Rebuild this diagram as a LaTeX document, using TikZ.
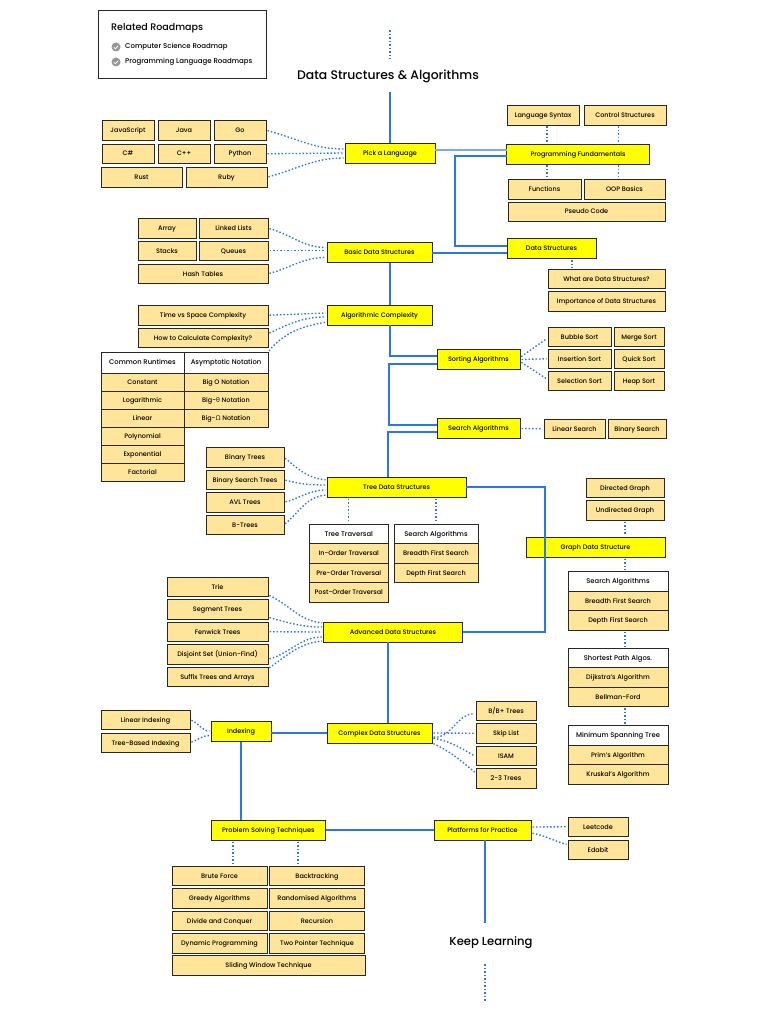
\documentclass[tikz,border=0pt]{standalone}
\usepackage{fontspec}
\setmainfont{Poppins}[UprightFont=* Medium]
\newfontfamily\greekfont{Open Sans}
\usepackage{xcolor}
\usetikzlibrary{positioning}
\definecolor{linkblue}{RGB}{43, 120, 228}
\definecolor{palelink}{RGB}{120, 170, 240}
\definecolor{topicyellow}{RGB}{255, 255, 0}
\definecolor{subtan}{RGB}{255, 229, 153}
\definecolor{inkline}{RGB}{40, 40, 32}
\definecolor{checkgray}{RGB}{150, 150, 150}
\tikzset{
    basebox/.style={draw=inkline, line width=0.95pt, inner sep=0pt, outer sep=0pt, align=center, text height=5.5pt, text depth=1pt, font=\fontsize{6.5}{8}\selectfont, text=black},
    topicbox/.style={basebox, fill=topicyellow, minimum height=20},
    subbox/.style={basebox, fill=subtan, minimum height=19.5},
    headbox/.style={basebox, fill=white, minimum height=19.5, font=\fontsize{6.8}{8}\selectfont},
    solidlink/.style={draw=linkblue, line width=2pt},
    dotlink/.style={draw=linkblue, line width=1.35pt, dash pattern=on 1.5pt off 2pt, shorten >=1.5pt, shorten <=1.5pt},
    endtitle/.style={inner sep=0pt, outer sep=0pt, font=\fontsize{11.6}{14}\selectfont},
    checkdot/.style={circle, fill=checkgray, minimum size=9, inner sep=0pt}
}
\begin{document}
\begin{tikzpicture}[x=1pt, y=-1pt]
    \path[use as bounding box, fill=white] (0,0) rectangle (768,1024);

    \node[draw=inkline, line width=0.95pt, fill=white, minimum width=168, minimum height=68, inner sep=0pt, anchor=north west] (related) at (98,10) {};
    \node[anchor=west, inner sep=0pt, font=\fontsize{9.5}{11}\selectfont] (relatedtitle) at (111,28) {Related Roadmaps};
    \node[checkdot] (csdot) at (116,47) {};
    \node[checkdot] (pldot) at (116,62) {};
    \draw[white, line width=0.8pt] ([shift={(-2.2,0.2)}]csdot.center) -- ++(1.6,1.6) -- ++(2.8,-3);
    \draw[white, line width=0.8pt] ([shift={(-2.2,0.2)}]pldot.center) -- ++(1.6,1.6) -- ++(2.8,-3);
    \node[anchor=west, inner sep=0pt, font=\fontsize{7}{8}\selectfont] (csroad) at (125,47) {Computer Science Roadmap};
    \node[anchor=west, inner sep=0pt, font=\fontsize{7}{8}\selectfont] (plroad) at (125,62) {Programming Language Roadmaps};

    \coordinate (topdot) at (390,29);
    \node[endtitle, minimum height=31, font=\fontsize{12.4}{14}\selectfont] (title) at (388,76.5) {Data Structures \& Algorithms};

    \node[topicbox, minimum width=90] (pick) at (390,153) {Pick a Language};
    \node[subbox, minimum width=52, anchor=north west] (javascript) at (102,120.5) {JavaScript};
    \node[subbox, minimum width=52, right=4pt of javascript] (java) {Java};
    \node[subbox, minimum width=52, right=4pt of java] (go) {Go};
    \node[subbox, minimum width=52, below=4pt of javascript] (csharp) {C\#};
    \node[subbox, minimum width=52, right=4pt of csharp] (cpp) {C++};
    \node[subbox, minimum width=52, right=4pt of cpp] (python) {Python};
    \node[subbox, minimum width=81, anchor=north west] (rust) at (101,167.5) {Rust};
    \node[subbox, minimum width=81, right=4pt of rust] (ruby) {Ruby};

    \node[topicbox, minimum width=142.5] (fundamentals) at (578,154) {Programming Fundamentals};
    \node[subbox, minimum width=72, anchor=north west] (syntax) at (507,105.5) {Language Syntax};
    \node[subbox, minimum width=82, right=5pt of syntax] (control) {Control Structures};
    \node[subbox, minimum width=73, anchor=north west] (functions) at (508,179.5) {Functions};
    \node[subbox, minimum width=81, right=3pt of functions] (oop) {OOP Basics};
    \node[subbox, minimum width=157, anchor=north west] (pseudo) at (508,202) {Pseudo Code};

    \node[topicbox, minimum width=89] (datastruct) at (551.5,248.5) {Data Structures};
    \node[subbox, minimum width=117, anchor=north west] (whatare) at (548,269) {What are Data Structures?};
    \node[subbox, minimum width=117, below=3pt of whatare] (importance) {Importance of Data Structures};

    \node[topicbox, minimum width=105] (basic) at (379.5,252.5) {Basic Data Structures};
    \node[subbox, minimum width=58, anchor=north west] (array) at (138,218.5) {Array};
    \node[subbox, minimum width=69, right=3pt of array] (linked) {Linked Lists};
    \node[subbox, minimum width=58, below=3pt of array] (stacks) {Stacks};
    \node[subbox, minimum width=69, right=3pt of stacks] (queues) {Queues};
    \node[subbox, minimum width=130, anchor=north west] (hash) at (138,264) {Hash Tables};

    \node[topicbox, minimum width=105] (complexity) at (379.5,315) {Algorithmic Complexity};
    \node[subbox, minimum width=130, anchor=north west] (timespace) at (138,305.5) {Time vs Space Complexity};
    \node[subbox, minimum width=130, below=3pt of timespace] (calculate) {How to Calculate Complexity?};

    \node[headbox, minimum width=83, minimum height=21, anchor=north west] (runtimes) at (101,352) {Common Runtimes};
    \node[headbox, minimum width=84, minimum height=21, right=0pt of runtimes] (asymptotic) {Asymptotic Notation};
    \node[subbox, minimum width=83, minimum height=18, below=0pt of runtimes] (constant) {Constant};
    \node[subbox, minimum width=83, minimum height=18, below=0pt of constant] (logarithmic) {Logarithmic};
    \node[subbox, minimum width=83, minimum height=18, below=0pt of logarithmic] (linear) {Linear};
    \node[subbox, minimum width=83, minimum height=18, below=0pt of linear] (polynomial) {Polynomial};
    \node[subbox, minimum width=83, minimum height=18, below=0pt of polynomial] (exponential) {Exponential};
    \node[subbox, minimum width=83, minimum height=18, below=0pt of exponential] (factorial) {Factorial};
    \node[subbox, minimum width=84, minimum height=18, below=0pt of asymptotic] (bigo) {Big O Notation};
    \node[subbox, minimum width=84, minimum height=18, below=0pt of bigo] (bigtheta) {Big-{\greekfont θ} Notation};
    \node[subbox, minimum width=84, minimum height=18, below=0pt of bigtheta] (bigomega) {Big-{\greekfont Ω} Notation};

    \node[topicbox, minimum width=83] (sorting) at (478.5,359.5) {Sorting Algorithms};
    \node[subbox, minimum width=63, anchor=north west] (bubble) at (548,327) {Bubble Sort};
    \node[subbox, minimum width=50, right=3pt of bubble] (merge) {Merge Sort};
    \node[subbox, minimum width=63, below=2.5pt of bubble] (insertion) {Insertion Sort};
    \node[subbox, minimum width=50, right=3pt of insertion] (quick) {Quick Sort};
    \node[subbox, minimum width=63, below=2.5pt of insertion] (selection) {Selection Sort};
    \node[subbox, minimum width=50, right=3pt of selection] (heap) {Heap Sort};

    \node[topicbox, minimum width=83] (search) at (478.5,428.5) {Search Algorithms};
    \node[subbox, minimum width=61, anchor=north west] (linsearch) at (544,419) {Linear Search};
    \node[subbox, minimum width=58, right=3pt of linsearch] (binsearch) {Binary Search};

    \node[topicbox, minimum width=139] (tree) at (396.5,487) {Tree Data Structures};
    \node[subbox, minimum width=78, anchor=north west] (binarytree) at (206,447.5) {Binary Trees};
    \node[subbox, minimum width=78, below=3pt of binarytree] (bst) {Binary Search Trees};
    \node[subbox, minimum width=78, below=3pt of bst] (avl) {AVL Trees};
    \node[subbox, minimum width=78, below=3pt of avl] (btrees) {B-Trees};
    \node[headbox, minimum width=78.5, anchor=north west] (traversal) at (309.5,524) {Tree Traversal};
    \node[subbox, minimum width=78.5, below=0pt of traversal] (inorder) {In-Order Traversal};
    \node[subbox, minimum width=78.5, below=0pt of inorder] (preorder) {Pre-Order Traversal};
    \node[subbox, minimum width=78.5, below=0pt of preorder] (postorder) {Post-Order Traversal};
    \node[headbox, minimum width=84, anchor=north west] (treesearch) at (394,524) {Search Algorithms};
    \node[subbox, minimum width=84, below=0pt of treesearch] (treebfs) {Breadth First Search};
    \node[subbox, minimum width=84, below=0pt of treebfs] (treedfs) {Depth First Search};

    \node[topicbox, minimum width=139] (graph) at (595.5,547) {Graph Data Structure};
    \node[subbox, minimum width=78, anchor=north west] (directed) at (586,478) {Directed Graph};
    \node[subbox, minimum width=78, below=3pt of directed] (undirected) {Undirected Graph};
    \node[headbox, minimum width=100, anchor=north west] (graphsearch) at (568,571.5) {Search Algorithms};
    \node[subbox, minimum width=100, below=0pt of graphsearch] (graphbfs) {Breadth First Search};
    \node[subbox, minimum width=100, below=0pt of graphbfs] (graphdfs) {Depth First Search};
    \node[headbox, minimum width=100, anchor=north west] (shortest) at (568,648) {Shortest Path Algos.};
    \node[subbox, minimum width=100, below=0pt of shortest] (dijkstra) {Dijkstra's Algorithm};
    \node[subbox, minimum width=100, below=0pt of dijkstra] (bellman) {Bellman-Ford};
    \node[headbox, minimum width=100, anchor=north west] (spanning) at (568,725.5) {Minimum Spanning Tree};
    \node[subbox, minimum width=100, below=0pt of spanning] (prim) {Prim's Algorithm};
    \node[subbox, minimum width=100, below=0pt of prim] (kruskal) {Kruskal's Algorithm};

    \node[topicbox, minimum width=139] (advanced) at (393,632) {Advanced Data Structures};
    \node[subbox, minimum width=101, anchor=north west] (trie) at (167,577) {Trie};
    \node[subbox, minimum width=101, below=3pt of trie] (segment) {Segment Trees};
    \node[subbox, minimum width=101, below=3pt of segment] (fenwick) {Fenwick Trees};
    \node[subbox, minimum width=101, below=3pt of fenwick] (disjoint) {Disjoint Set (Union-Find)};
    \node[subbox, minimum width=101, below=3pt of disjoint] (suffix) {Suffix Trees and Arrays};

    \node[topicbox, minimum width=105] (complex) at (379.5,733) {Complex Data Structures};
    \node[subbox, minimum width=60, anchor=north west] (bplus) at (476,701) {B/B+ Trees};
    \node[subbox, minimum width=60, below=3pt of bplus] (skip) {Skip List};
    \node[subbox, minimum width=60, below=3pt of skip] (isam) {ISAM};
    \node[subbox, minimum width=60, below=3pt of isam] (twothree) {2-3 Trees};

    \node[topicbox, minimum width=60] (indexing) at (241,731.5) {Indexing};
    \node[subbox, minimum width=89, anchor=north west] (linindex) at (101,710) {Linear Indexing};
    \node[subbox, minimum width=89, below=3.5pt of linindex] (treeindex) {Tree-Based Indexing};

    \node[topicbox, minimum width=114.5] (solving) at (268.25,830) {Problem Solving Techniques};
    \node[subbox, minimum width=95, anchor=north west] (brute) at (172,866) {Brute Force};
    \node[subbox, minimum width=95, right=2.5pt of brute] (backtrack) {Backtracking};
    \node[subbox, minimum width=95, below=3pt of brute] (greedy) {Greedy Algorithms};
    \node[subbox, minimum width=95, right=2.5pt of greedy] (randomised) {Randomised Algorithms};
    \node[subbox, minimum width=95, below=3pt of greedy] (divide) {Divide and Conquer};
    \node[subbox, minimum width=95, right=2.5pt of divide] (recursion) {Recursion};
    \node[subbox, minimum width=95, below=3pt of divide] (dynamic) {Dynamic Programming};
    \node[subbox, minimum width=95, right=2.5pt of dynamic] (twopointer) {Two Pointer Technique};
    \node[subbox, minimum width=193, anchor=north west] (sliding) at (172,955.5) {Sliding Window Technique};

    \node[topicbox, minimum width=97] (platforms) at (482.5,830) {Platforms for Practice};
    \node[subbox, minimum width=60, anchor=north west] (leetcode) at (568,817) {Leetcode};
    \node[subbox, minimum width=60, below=3.5pt of leetcode] (edabit) {Edabit};

    \node[endtitle, minimum height=40] (keep) at (491,942.5) {Keep Learning};
    \coordinate (enddot) at (485,1003);

    \draw[dotlink] (topdot) -- (topdot |- title.north);
    \draw[solidlink] (topdot |- title.south) -- (topdot |- pick.north);
    \draw[draw=palelink, line width=2pt] ([yshift=3pt]pick.east) -- ([yshift=4pt]fundamentals.west);
    \draw[solidlink] ([yshift=-2pt]fundamentals.west) -| (455,246) -- (datastruct.west |- 455,246);
    \draw[solidlink] (basic.east) -- (datastruct.west |- basic.east);
    \draw[solidlink] ([xshift=10pt]basic.south) -- ([xshift=10pt]complexity.north);
    \draw[solidlink] ([xshift=10.5pt]complexity.south) |- ([yshift=4pt]sorting.west);
    \draw[solidlink] ([yshift=-4pt]sorting.west) -| (389,425) -- ([yshift=3.5pt]search.west);
    \draw[solidlink] ([yshift=-3.5pt]search.west) -| ([xshift=-8.5pt]tree.north);
    \draw[solidlink] (tree.east) -| (545,632) -- (advanced.east);
    \draw[solidlink] ([xshift=-5pt]advanced.south) -- ([xshift=8.5pt]complex.north);
    \draw[solidlink] (complex.west) -- (indexing.east |- complex.west);
    \draw[solidlink] (indexing.south) -- (indexing.south |- solving.north);
    \draw[solidlink] (solving.east) -- (platforms.west);
    \draw[solidlink] ([xshift=2.5pt]platforms.south) -- ([xshift=2.5pt]platforms.south |- keep.north);

    \draw[dotlink] (go.east) to[out=-15, in=180] ([yshift=4pt]pick.west);
    \draw[dotlink] (python.east) -- (pick.west);
    \draw[dotlink] (ruby.east) to[out=15, in=180] ([yshift=-5pt]pick.west);
    \draw[dotlink] (linked.east) to[out=-15, in=180] ([yshift=5pt]basic.west);
    \draw[dotlink] (queues.east) -- (basic.west |- queues.east);
    \draw[dotlink] (hash.east) to[out=15, in=180] ([yshift=-5pt]basic.west);
    \draw[dotlink] (timespace.east) -- ([yshift=2pt]complexity.west);
    \draw[dotlink] ([yshift=4pt]calculate.east) to[out=25, in=180] ([yshift=-2pt]complexity.west);
    \draw[dotlink] (asymptotic.north east) to[out=50, in=190] ([yshift=-7pt]complexity.west);
    \draw[dotlink] (syntax.south -| 547,0) -- (fundamentals.north -| 547,0);
    \draw[dotlink] (control.south -| 618.5,0) -- (fundamentals.north -| 618.5,0);
    \draw[dotlink] (fundamentals.south -| 547,0) -- (functions.north -| 547,0);
    \draw[dotlink] (fundamentals.south -| 618.5,0) -- (oop.north -| 618.5,0);
    \draw[dotlink] (datastruct.south -| 572,0) -- (whatare.north -| 572,0);
    \draw[dotlink] ([yshift=2pt]sorting.east) -- ([yshift=-1pt]bubble.west);
    \draw[dotlink] (sorting.east) -- (insertion.west);
    \draw[dotlink] ([yshift=-2pt]sorting.east) -- ([yshift=1pt]selection.west);
    \draw[dotlink] (search.east) -- (linsearch.west);
    \draw[dotlink] (binarytree.east) to[out=-40, in=175] ([yshift=7pt]tree.west);
    \draw[dotlink] (bst.east) to[out=-15, in=180] ([yshift=2pt]tree.west);
    \draw[dotlink] (avl.east) to[out=15, in=180] ([yshift=-3pt]tree.west);
    \draw[dotlink] (btrees.east) to[out=40, in=185] ([yshift=-8pt]tree.west);
    \draw[dotlink] (tree.south -| traversal.north) -- (traversal.north);
    \draw[dotlink] (tree.south -| treesearch.north) -- (treesearch.north);
    \draw[dotlink] (undirected.south -| 625,0) -- (graph.north -| 625,0);
    \draw[dotlink] (graph.south -| 625,0) -- (graphsearch.north -| 625,0);
    \draw[dotlink] (graphdfs.south -| 625,0) -- (shortest.north -| 625,0);
    \draw[dotlink] (bellman.south -| 625,0) -- (spanning.north -| 625,0);
    \draw[dotlink] ([yshift=-8pt]trie.east) to[out=-25, in=175] ([yshift=9pt]advanced.west);
    \draw[dotlink] ([yshift=-8pt]segment.east) to[out=-15, in=180] ([yshift=5pt]advanced.west);
    \draw[dotlink] (fenwick.east) -- (advanced.west);
    \draw[dotlink] ([yshift=-5pt]disjoint.east) to[out=15, in=180] ([yshift=-5pt]advanced.west);
    \draw[dotlink] ([yshift=8pt]suffix.east) to[out=35, in=185] ([yshift=-9pt]advanced.west);
    \draw[dotlink] ([yshift=6pt]complex.south east) to[out=-5, in=180] ([yshift=-3pt]bplus.west) ;
    \draw[dotlink] (complex.east) -- (skip.west);
    \draw[dotlink] ([yshift=-5pt]complex.east) to[out=-10, in=150] ([yshift=-1pt]isam.west);
    \draw[dotlink] (complex.south east) to[out=-25, in=140] ([yshift=5pt]twothree.west);
    \draw[dotlink] (linindex.east) to[out=-20, in=180] ([yshift=0.5pt]indexing.west);
    \draw[dotlink] (treeindex.east) to[out=20, in=180] ([yshift=-4pt]indexing.west);
    \draw[dotlink] (solving.south -| 233,0) -- (brute.north -| 233,0);
    \draw[dotlink] (solving.south -| 298,0) -- (backtrack.north -| 298,0);
    \draw[dotlink] ([yshift=3pt]platforms.east) -- (leetcode.west);
    \draw[dotlink] ([yshift=-3pt]platforms.east) to[out=-10, in=165] ([yshift=5pt]edabit.west);
    \draw[dotlink] ([xshift=-6pt]keep.south) -- (enddot);
\end{tikzpicture}
\end{document}
